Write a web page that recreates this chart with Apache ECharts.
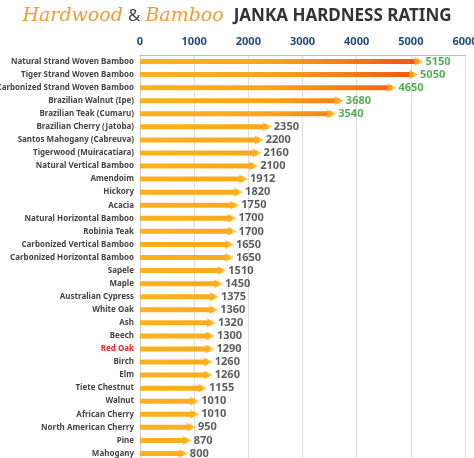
<!DOCTYPE html><html><head><meta charset="utf-8">
<script src="https://cdn.jsdelivr.net/npm/echarts@6/dist/echarts.min.js"></script>
<style>html,body{margin:0;padding:0;background:#fff}#c{width:474px;height:458px}</style></head><body><div id="c"></div>
<script>
const categories=["Natural Strand Woven Bamboo","Tiger Strand Woven Bamboo","Carbonized Strand Woven Bamboo","Brazilian Walnut (Ipe)","Brazilian Teak (Cumaru)","Brazilian Cherry (Jatoba)","Santos Mahogany (Cabreuva)","Tigerwood (Muiracatiara)","Natural Vertical Bamboo","Amendoim","Hickory","Acacia","Natural Horizontal Bamboo","Robinia Teak","Carbonized Vertical Bamboo","Carbonized Horizontal Bamboo","Sapele","Maple","Australian Cypress","White Oak","Ash","Beech","Red Oak","Birch","Elm","Tiete Chestnut","Walnut","African Cherry","North American Cherry","Pine","Mahogany"];
const values=[5150,5050,4650,3680,3540,2350,2200,2160,2100,1912,1820,1750,1700,1700,1650,1650,1510,1450,1375,1360,1320,1300,1290,1260,1260,1155,1010,1010,950,870,800];
const tickLabels=[0,1000,2000,3000,4000,5000,6000];
const grad=()=>new echarts.graphic.LinearGradient(140,0,425,0,[{offset:0,color:'#fbb21f'},{offset:0.45,color:'#f9a51c'},{offset:1,color:'#ee5212'}],true);
const chart=echarts.init(document.getElementById('c'));
chart.setOption({
 animation:false,
 title:{left:'center',top:2,text:'{a|Hardwood} {b|&} {a|Bamboo}  {c|JANKA HARDNESS RATING}',
  textStyle:{rich:{a:{fontFamily:'DejaVu Serif',fontStyle:'italic',fontWeight:'normal',fontSize:19,color:'#f29a38'},b:{fontFamily:'Noto Sans',fontWeight:'normal',fontSize:17,color:'#444'},c:{fontFamily:'Noto Sans',fontWeight:'bold',fontSize:17,color:'#333'}}}},
 grid:{left:140,right:9,top:55,bottom:-2,outerBoundsMode:'none',containLabel:false},
 xAxis:{type:'value',position:'top',min:0,max:6000,interval:1000,
  axisLine:{show:true,lineStyle:{color:'#bbb'}},axisTick:{show:false},
  axisLabel:{color:'#1f4a7a',fontWeight:'bold',fontSize:11,fontFamily:'Noto Sans',margin:8,formatter:v=>tickLabels.includes(v)?String(v):''},
  splitLine:{lineStyle:{color:'#ddd'}}},
 yAxis:{type:'category',data:categories,inverse:true,
  axisLine:{show:true,lineStyle:{color:'#ccc'}},axisTick:{show:false},
  axisLabel:{fontSize:8,fontWeight:'bold',fontFamily:'Noto Sans',color:'#444',margin:6,
   formatter:v=>v==='Red Oak'?'{r|'+v+'}':v,rich:{r:{color:'#e8202a',fontSize:8,fontWeight:'bold'}}}},
 series:[
  {type:'bar',data:values,barWidth:5,itemStyle:{color:grad()},barGap:'-100%'},
  {type:'scatter',data:values,symbol:'triangle',symbolRotate:-90,symbolSize:[9,9],itemStyle:{color:grad()},
   label:{show:true,position:'right',distance:2,fontSize:11,fontWeight:'bold',fontFamily:'Noto Sans',
    formatter:p=>p.value>3500?'{g|'+p.value+'}':String(p.value),color:'#333',rich:{g:{color:'#2a9a2a',fontSize:11,fontWeight:'bold'}}}}
 ]
});
</script></body></html>
